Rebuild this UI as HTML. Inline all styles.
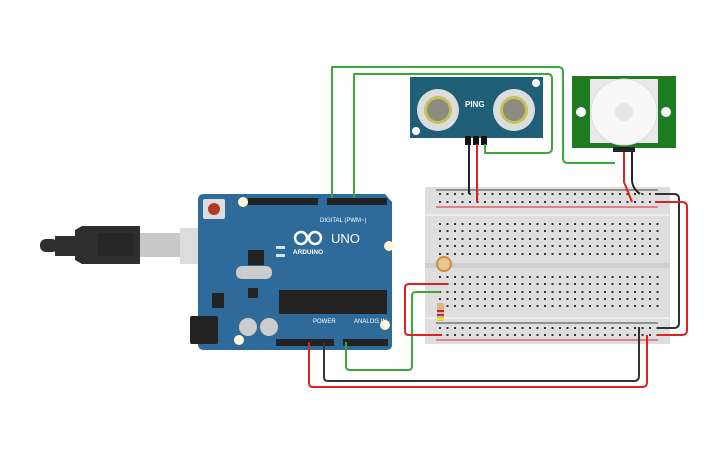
<!DOCTYPE html>
<html><head><meta charset="utf-8"><style>body{margin:0;background:#fff}svg{display:block}</style></head>
<body>
<svg width="725" height="453" viewBox="0 0 725 453" xmlns="http://www.w3.org/2000/svg" font-family="Liberation Sans, sans-serif">
<defs>
<pattern id="d" x="437" y="0" width="7.5" height="500" patternUnits="userSpaceOnUse"><rect x="2" y="0" width="2" height="500" fill="#333"/></pattern>
</defs>
<!-- USB -->
<rect x="180" y="228" width="32" height="36" fill="#dcdcdc"/>
<rect x="140" y="233" width="40" height="24" fill="#c8c8c8"/>
<path d="M75 230 L82 226 H140 V264 H82 L75 260 Z" fill="#2e2e2e"/>
<rect x="55" y="236" width="22" height="20" fill="#2e2e2e"/>
<rect x="40" y="239" width="18" height="13" rx="6" fill="#2e2e2e"/>
<rect x="98" y="233" width="35" height="23" fill="#262626"/>
<!-- Arduino -->
<path d="M198 200 Q198 194 204 194 H385 L392 202 V345 Q392 350 386 350 H204 Q198 350 198 344 Z" fill="#2f6b9a"/>
<rect x="203" y="199" width="22" height="20" rx="2" fill="#ddd"/><circle cx="214" cy="209" r="6" fill="#b03a2a"/>
<circle cx="243" cy="202" r="5" fill="#fff6d8"/><circle cx="389" cy="246" r="5" fill="#fff6d8"/><circle cx="239" cy="340" r="5" fill="#fff6d8"/><circle cx="385" cy="325" r="5" fill="#fff6d8"/>
<rect x="248" y="198" width="70" height="7" fill="#222"/><rect x="327" y="198" width="60" height="7" fill="#222"/>
<text x="320" y="222" font-size="6" fill="#fff">DIGITAL (PWM~)</text>
<circle cx="301" cy="238" r="6" fill="none" stroke="#fff" stroke-width="2.5"/><circle cx="315" cy="238" r="6" fill="none" stroke="#fff" stroke-width="2.5"/>
<text x="308" y="254" font-size="6.5" fill="#fff" font-weight="bold" text-anchor="middle">ARDUINO</text>
<text x="331" y="243" font-size="13" fill="#fff">UNO</text>
<rect x="276" y="246" width="9" height="3" fill="#fff" opacity=".8"/><rect x="276" y="254" width="9" height="3" fill="#fff" opacity=".8"/>
<rect x="248" y="250" width="16" height="15" fill="#222"/>
<rect x="236" y="266" width="36" height="13" rx="6" fill="#ccc"/>
<rect x="248" y="288" width="10" height="10" fill="#222"/><rect x="212" y="293" width="12" height="15" fill="#222"/>
<rect x="279" y="290" width="108" height="24" fill="#222"/>
<rect x="190" y="316" width="28" height="28" rx="2" fill="#222"/>
<circle cx="248" cy="327" r="9" fill="#ccc"/><circle cx="269" cy="327" r="9" fill="#ccc"/>
<text x="313" y="323" font-size="6" fill="#fff">POWER</text><text x="354" y="323" font-size="6" fill="#fff">ANALOG IN</text>
<rect x="276" y="339" width="58" height="7" fill="#222"/><rect x="343" y="339" width="45" height="7" fill="#222"/>
<!-- Ping -->
<rect x="410" y="77" width="133" height="61" fill="#1f5f78"/>
<circle cx="536" cy="83" r="4" fill="#fff"/><circle cx="416" cy="131" r="4" fill="#fff"/>
<circle cx="438" cy="110" r="21" fill="#ddd"/><circle cx="438" cy="110" r="14" fill="#c5c25a"/><circle cx="438" cy="110" r="11" fill="#8c8c82"/>
<circle cx="514" cy="110" r="21" fill="#ddd"/><circle cx="514" cy="110" r="14" fill="#c5c25a"/><circle cx="514" cy="110" r="11" fill="#8c8c82"/>
<text x="465" y="107" font-size="8" fill="#fff" font-weight="bold">PING</text>
<rect x="465" y="136" width="6" height="9" fill="#111"/><rect x="473" y="136" width="6" height="9" fill="#111"/><rect x="481" y="136" width="6" height="9" fill="#111"/>
<!-- PIR -->
<rect x="572" y="76" width="104" height="72" fill="#1e7b22"/>
<rect x="590" y="79" width="68" height="64" fill="#e9e9e9"/>
<circle cx="624" cy="112" r="33" fill="#f7f7f7" stroke="#ddd"/><circle cx="624" cy="112" r="9" fill="#e6e6e6"/>
<circle cx="581" cy="112" r="5" fill="#fff"/><circle cx="666" cy="112" r="5" fill="#fff"/>
<rect x="613" y="147" width="22" height="5" fill="#222"/>
<!-- Breadboard -->
<rect x="425" y="187" width="245" height="157" fill="#dedede"/>
<rect x="425" y="214" width="245" height="2" fill="#eee"/><rect x="425" y="263" width="245" height="5" fill="#cfcfcf"/><rect x="425" y="317" width="245" height="2" fill="#eee"/>
<line x1="436" y1="190" x2="658" y2="190" stroke="#444"/><line x1="436" y1="207" x2="658" y2="207" stroke="#d66" stroke-width="1.5"/>
<line x1="436" y1="323" x2="658" y2="323" stroke="#444"/><line x1="436" y1="340" x2="658" y2="340" stroke="#d66" stroke-width="1.5"/>
<g fill="url(#d)">
<rect x="437" y="193" width="225" height="2"/><rect x="437" y="201" width="225" height="2"/>
<rect x="437" y="223" width="225" height="2"/><rect x="437" y="230" width="225" height="2"/><rect x="437" y="238" width="225" height="2"/><rect x="437" y="245" width="225" height="2"/><rect x="437" y="253" width="225" height="2"/>
<rect x="437" y="276" width="225" height="2"/><rect x="437" y="283" width="225" height="2"/><rect x="437" y="291" width="225" height="2"/><rect x="437" y="298" width="225" height="2"/><rect x="437" y="305" width="225" height="2"/>
<rect x="437" y="327" width="225" height="2"/><rect x="437" y="334" width="225" height="2"/>
</g>
<circle cx="444" cy="264" r="8" fill="#c98a4a"/><circle cx="444" cy="264" r="6" fill="#e8c98a"/>
<rect x="437" y="303" width="7" height="18" rx="2" fill="#d8b878"/><rect x="437" y="310" width="7" height="2" fill="#c22"/><rect x="437" y="314" width="7" height="2" fill="#83a"/><rect x="437" y="318" width="7" height="2" fill="#ee0"/>
<!-- wires -->
<g fill="none" stroke-width="2" stroke-linejoin="round">
<path d="M332 198 V67 H558 Q563 67 563 72 V158 Q563 163 568 163 H615" stroke="#3aa83a"/>
<path d="M354 198 V74 H548 Q552 74 552 79 V148 Q552 153 547 153 H485 V144" stroke="#3aa83a"/>
<path d="M469 144 V194" stroke="#222"/><path d="M477 144 V202" stroke="#d22"/>
<path d="M624 152 V182 L632 202" stroke="#d22"/><path d="M632 152 V180 Q632 188 640 194" stroke="#222"/>
<path d="M655 194 H674 Q679 194 679 199 V323 Q679 328 674 328 H657" stroke="#333"/>
<path d="M655 202 H682 Q687 202 687 207 V330 Q687 335 682 335 H657" stroke="#d22"/>
<path d="M324 342 V377 Q324 381 328 381 H634 Q639 381 639 376 V327" stroke="#333"/>
<path d="M309 342 V383 Q309 387 313 387 H642 Q647 387 647 382 V335" stroke="#d22"/>
<path d="M346 342 V366 Q346 370 350 370 H408 Q412 370 412 366 V296 Q412 292 416 292 H440" stroke="#3aa83a"/>
<path d="M448 284 H409 Q405 284 405 288 V331 Q405 335 409 335 H442" stroke="#d22"/>
</g>
</svg>
</body></html>
